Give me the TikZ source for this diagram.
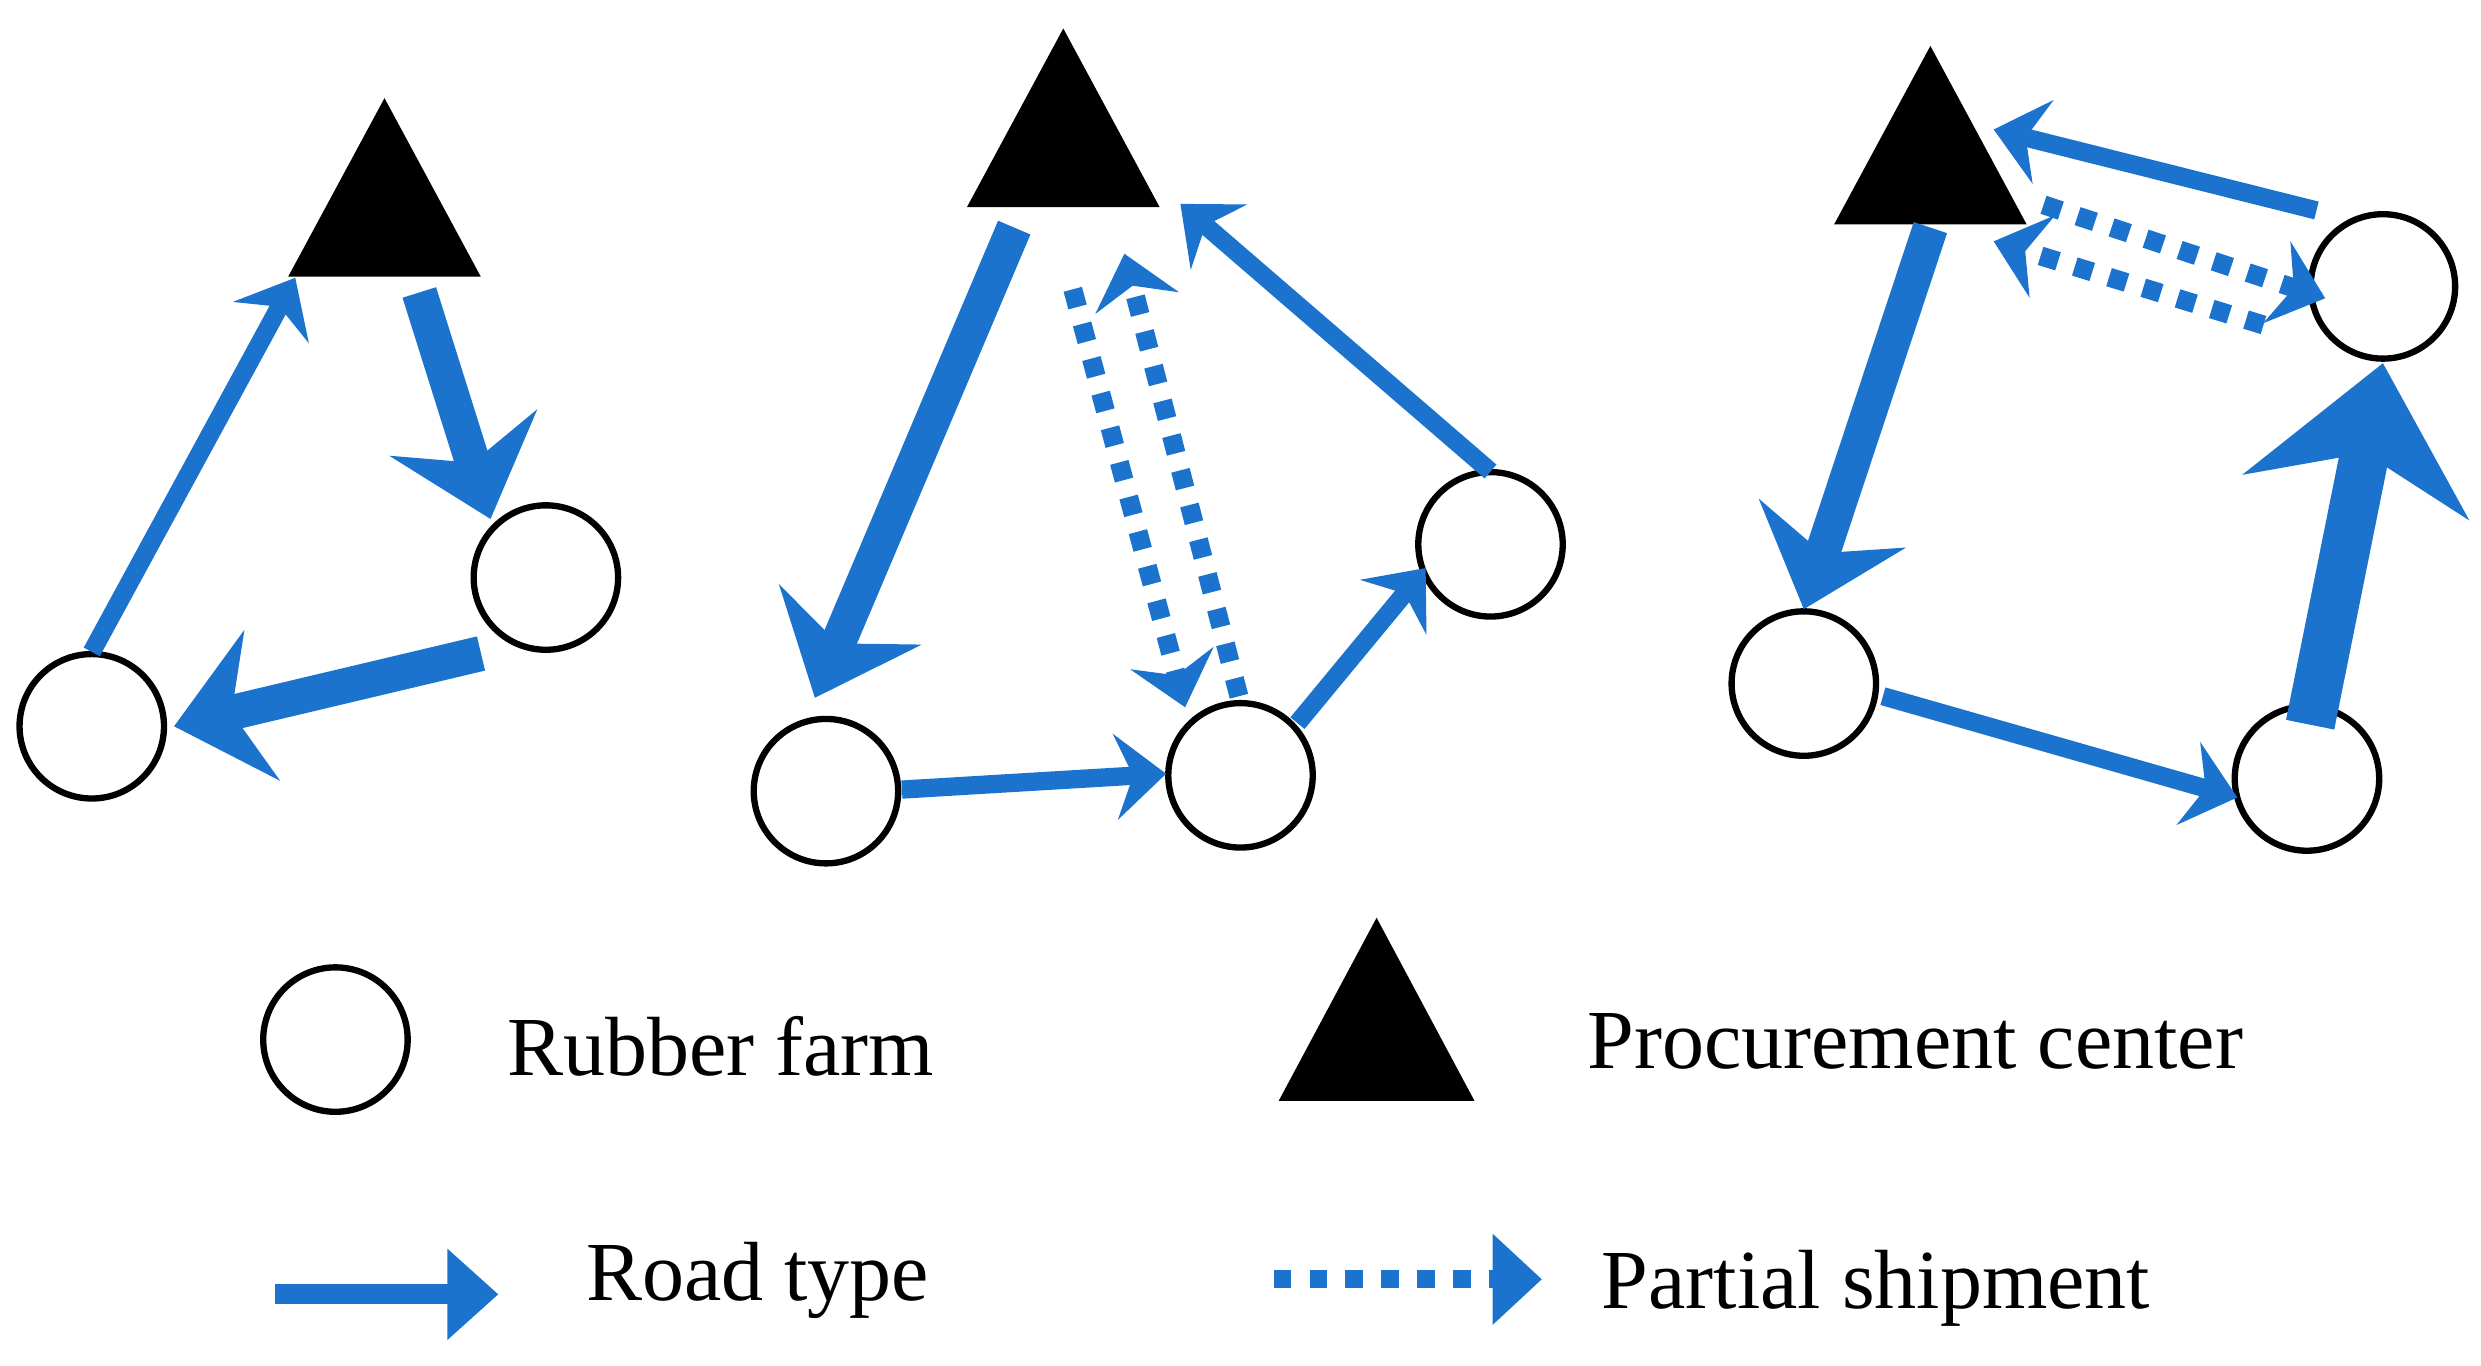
\documentclass[tikz,border=0pt]{standalone}
\usepackage{fontspec}
\setmainfont{Liberation Serif}
\usetikzlibrary{shapes.geometric, arrows.meta, calc}
\definecolor{road}{RGB}{28,115,206}
\tikzset{
  farm/.style={circle, draw=black, line width=1.8pt, minimum size=41.1pt, inner sep=0pt},
  hub/.style={isosceles triangle, isosceles triangle stretches, shape border rotate=90,
              fill=black, inner sep=0pt, outer sep=0pt, minimum width=54.8pt, minimum height=50.8pt, anchor=apex},
  lightroad/.style={-{Stealth[length=14.4pt, width=24.3pt, inset=5pt]}, line width=5.2pt, color=road},
  midroad/.style={-{Stealth[length=25.6pt, width=43.6pt, inset=8.8pt]}, line width=10pt, color=road},
  heavyroad/.style={-{Stealth[length=38.7pt, width=65pt, inset=12.6pt]}, line width=14pt, color=road},
  partial/.style={-{Stealth[length=14.4pt, width=24.3pt, inset=5pt]}, line width=5.4pt,
                  dash pattern=on 5.2pt off 5pt, color=road},
  keyroad/.style={-{Stealth[length=14.5pt, width=25pt, inset=0pt]}, line width=5.6pt, color=road},
  keypartial/.style={-{Stealth[length=14pt, width=25pt, inset=0pt]}, line width=5.2pt,
                     dash pattern=on 5pt off 5.2pt, color=road},
  keytext/.style={anchor=base west, inner sep=0pt, font=\fontsize{23.9}{26}\selectfont},
}
\begin{document}
\begin{tikzpicture}[x=0.015823cm, y=-0.015823cm]
  \useasboundingbox (0,0) rectangle (1568,862.7);

  % first network
  \node[hub] (hubA) at (243,62) {};
  \node[farm] (farmA) at (58,459) {};
  \node[farm] (farmB) at (345,365) {};
  \draw[lightroad] ($(farmA)+(0,-47)$) -- ($(hubA.lower side)+(-56.4,0.7)$);
  \draw[midroad] ($(hubA.lower side)+(22,10)$) -- ($(farmB)+(-35,-37)$);
  \draw[midroad] ($(farmB)+(-41,48)$) -- ($(farmA)+(52,0)$);

  % second network
  \node[hub] (hubB) at (672,18) {};
  \node[farm] (farmC) at (522,500) {};
  \node[farm] (farmD) at (784,490) {};
  \node[farm] (farmE) at (942,344) {};
  \draw[midroad] ($(hubB.lower side)+(-31,13)$) -- ($(farmC)+(-7,-59)$);
  \draw[lightroad] ($(farmC)+(48,-1)$) -- ($(farmD)+(-47,-1)$);
  \draw[lightroad] ($(farmD)+(36,-33)$) -- ($(farmE)+(-41,15)$);
  \draw[lightroad] ($(farmE)+(0,-46)$) -- ($(hubB.lower side)+(74,-2)$);
  \draw[partial] ($(hubB.lower side)+(6,52)$) -- ($(farmD)+(-35,-43)$);
  \draw[partial] ($(farmD)+(-1,-50)$) -- ($(hubB.lower side)+(38.6,29.5)$);

  % third network
  \node[hub] (hubC) at (1220,29) {};
  \node[farm] (farmF) at (1140,432) {};
  \node[farm] (farmG) at (1458,492) {};
  \node[farm] (farmH) at (1506,181) {};
  \draw[midroad] ($(hubC.lower side)+(0,2)$) -- ($(farmF)+(0,-47)$);
  \draw[lightroad] ($(farmF)+(50,8)$) -- ($(farmG)+(-44,12)$);
  \draw[heavyroad] ($(farmG)+(2,-34)$) -- ($(farmH)+(0,48.5)$);
  \draw[lightroad] ($(farmH)+(-42,-48)$) -- ($(hubC.lower side)+(40,-60)$);
  \draw[partial] ($(hubC.lower side)+(71.5,-12.4)$) -- ($(farmH)+(-36.5,7.5)$);
  \draw[partial] ($(farmH)+(-75.5,24.4)$) -- ($(hubC.lower side)+(40,10.7)$);

  % legend
  \node[farm] (keyfarm) at (212,657) {};
  \node[keytext] (farmtext) at (320,680) {Rubber farm};
  \node[hub, minimum width=55.7pt, minimum height=52.1pt] (keyhub) at (870,580) {};
  \node[keytext] (hubtext) at (1003,675) {Procurement center};
  \coordinate (roadfrom) at (174,818);
  \coordinate (roadto) at (315,818);
  \draw[keyroad] (roadfrom) -- (roadto);
  \node[keytext] (roadtext) at (370,822) {Road type};
  \coordinate (partialfrom) at (805,808.5);
  \coordinate (partialto) at (974.5,808.5);
  \draw[keypartial] (partialfrom) -- (partialto);
  \node[keytext] (partialtext) at (1012,827) {Partial shipment};
\end{tikzpicture}
\end{document}
